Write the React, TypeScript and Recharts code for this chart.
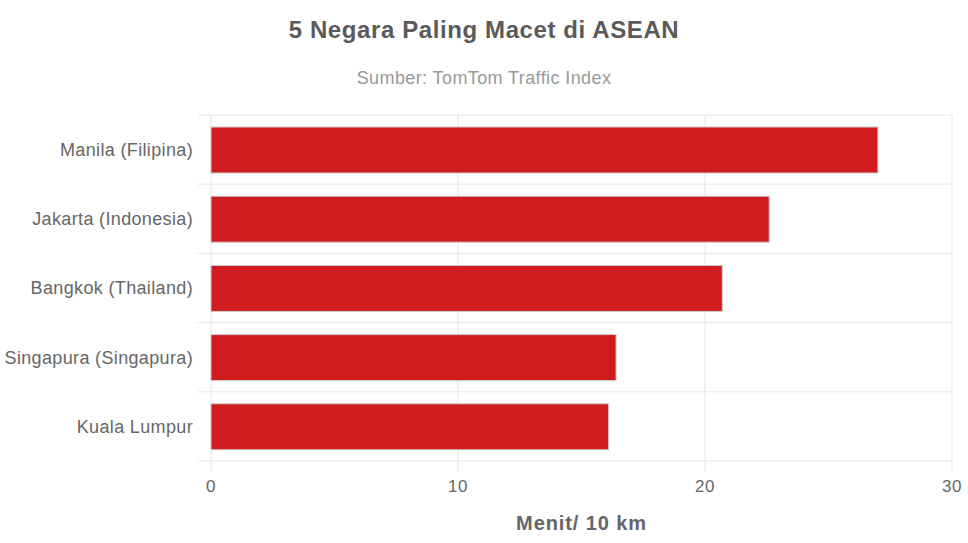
import React from 'react';
import { BarChart, Bar, XAxis, YAxis, CartesianGrid } from 'recharts';

const cities: string[] = [
  'Manila (Filipina)',
  'Jakarta (Indonesia)',
  'Bangkok (Thailand)',
  'Singapura (Singapura)',
  'Kuala Lumpur',
];
const minutesPer10km: number[] = [27.0, 22.6, 20.7, 16.4, 16.1];
const xTicks: number[] = [0, 10, 20, 30];

const titleText = '5 Negara Paling Macet di ASEAN';
const subtitleText = 'Sumber: TomTom Traffic Index';
const xAxisTitle = 'Menit/ 10 km';

const data = cities.map((name, i) => ({ name, value: minutesPer10km[i] }));

const FONT = '"Liberation Sans", Arial, sans-serif';

const boundaryGenerator = ({ offset }: any) => {
  const n = cities.length;
  const out: number[] = [];
  for (let i = 0; i <= n; i++) out.push(offset.top + (offset.height * i) / n);
  return out;
};

export default function App() {
  return (
    <div style={{ position: 'absolute', left: 0, top: 0, width: 968, height: 543, background: '#fff', fontFamily: FONT }}>
      <div style={{ position: 'absolute', left: 0, top: 18, width: 968, textAlign: 'center', fontSize: 24, lineHeight: '1', fontWeight: 'bold', color: '#5a5a5a', letterSpacing: 0.6 }}>
        {titleText}
      </div>
      <div style={{ position: 'absolute', left: 0, top: 69, width: 968, textAlign: 'center', fontSize: 18, lineHeight: '1', color: '#999999', letterSpacing: 0.4 }}>
        {subtitleText}
      </div>
      <BarChart
        width={968}
        height={543}
        data={data}
        layout="vertical"
        margin={{ top: 115, right: 16, left: 0, bottom: 0 }}
        barSize={46}
        style={{ position: 'absolute', left: 0, top: 0 }}
      >
        <CartesianGrid
          vertical={false}
          stroke="#e6e6e6"
          x={198}
          width={754}
          horizontalCoordinatesGenerator={boundaryGenerator}
        />
        <CartesianGrid horizontal={false} stroke="#e6e6e6" />
        <XAxis
          type="number"
          domain={[0, 30]}
          ticks={xTicks}
          axisLine={false}
          tickLine={{ stroke: '#e6e6e6' }}
          tickSize={10}
          tickMargin={9}
          height={82}
          interval={0}
          tick={{ fill: '#666666', fontSize: 17, fontFamily: FONT, letterSpacing: 0.5 }}
          label={{
            value: xAxisTitle,
            position: 'insideBottom',
            offset: 13,
            style: { fill: '#666666', fontSize: 20, fontWeight: 'bold', fontFamily: FONT, letterSpacing: 0.9 },
          }}
        />
        <YAxis
          type="category"
          dataKey="name"
          width={211}
          axisLine={false}
          tickLine={false}
          tickSize={10}
          tickMargin={8}
          interval={0}
          tick={{ fill: '#666666', fontSize: 18, fontFamily: FONT, letterSpacing: 0.35 }}
        />
        <Bar dataKey="value" fill="#d01c1f" stroke="#cccccc" strokeWidth={1} isAnimationActive={false} />
      </BarChart>
    </div>
  );
}
